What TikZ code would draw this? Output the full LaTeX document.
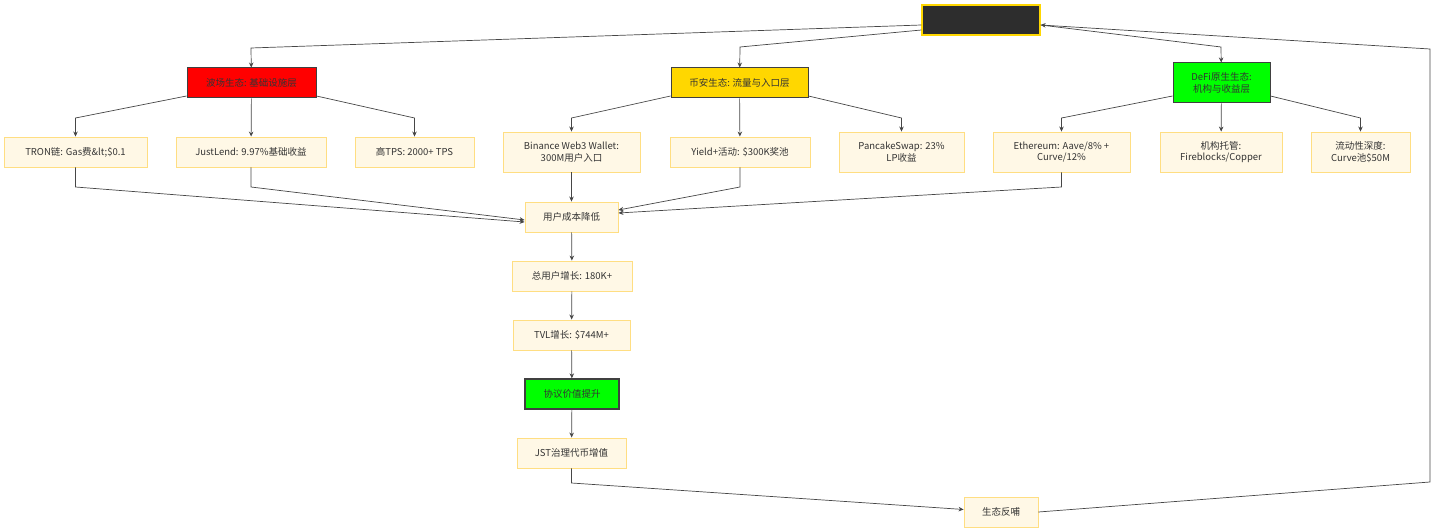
\documentclass[tikz,border=0pt]{standalone}
\usepackage{fontspec}
\setmainfont{Noto Sans CJK SC}
\usetikzlibrary{arrows.meta}
\definecolor{leaffill}{RGB}{255,248,230}
\definecolor{leafdraw}{RGB}{255,222,130}
\definecolor{edgegray}{RGB}{70,70,70}
\definecolor{rootfill}{RGB}{45,45,45}
\definecolor{rootdraw}{RGB}{255,215,0}
\definecolor{greenfill}{RGB}{0,255,0}
\definecolor{goldfill}{RGB}{255,215,0}
\tikzset{
  leaf/.style={draw=leafdraw,fill=leaffill,line width=0.9pt,rectangle,inner sep=0pt,minimum height=30pt,align=center,font=\fontsize{9.5}{11.5}\selectfont,text=black!80},
  layer/.style={draw=black!75,line width=1pt,rectangle,inner sep=0pt,minimum height=30pt,align=center,font=\fontsize{9.5}{11.5}\selectfont,text=black!80},
  link/.style={draw=edgegray,line width=0.7pt},
}
\begin{document}
\begin{tikzpicture}[x=1pt,y=-1pt,>={Stealth[length=5pt,width=4.5pt]}]
\useasboundingbox (0,0) rectangle (1436,532);
%%
\node (root) at (981,20) [draw=rootdraw,fill=rootfill,line width=1.2pt,rectangle,minimum width=118pt,minimum height=30pt] {};
  \node (tron_eco) at (251.5,83) [layer,fill=red,minimum width=129pt] {波场生态: 基础设施层};
  \node (bn_eco) at (739.5,83) [layer,fill=goldfill,minimum width=137pt] {币安生态: 流量与入口层};
  \node (defi_eco) at (1221.5,83) [layer,fill=greenfill,minimum width=97pt,minimum height=40pt] {DeFi原生生态:\\机构与收益层};
  \node (tron_gas) at (75.5,152) [leaf,minimum width=143pt] {TRON链: Gas费\&lt;\$0.1};
  \node (justlend) at (251,152) [leaf,minimum width=150pt] {JustLend: 9.97\%基础收益};
  \node (tps) at (414.5,152) [leaf,minimum width=119pt] {高TPS: 2000+ TPS};
  \node (web3_wallet) at (571.5,152) [leaf,minimum width=137pt,minimum height=40pt] {Binance Web3 Wallet:\\300M用户入口};
  \node (yield_plus) at (740,152) [leaf,minimum width=140pt] {Yield+活动: \$300K奖池};
  \node (pancake) at (901.5,152) [leaf,minimum width=125pt,minimum height=40pt] {PancakeSwap: 23\%\\LP收益};
  \node (ethereum) at (1061.5,152) [leaf,minimum width=137pt,minimum height=40pt] {Ethereum: Aave/8\% +\\Curve/12\%};
  \node (custody) at (1221,152) [leaf,minimum width=122pt,minimum height=40pt] {机构托管:\\Fireblocks/Copper};
  \node (liquidity) at (1360.5,152) [leaf,minimum width=99pt,minimum height=40pt] {流动性深度:\\Curve池\$50M};
  \node (cost_down) at (571.5,217) [leaf,minimum width=93pt] {用户成本降低};
  \node (user_growth) at (572,276) [leaf,minimum width=120pt] {总用户增长: 180K+};
  \node (tvl_growth) at (571.5,335) [leaf,minimum width=117pt] {TVL增长: \$744M+};
  \node (value_up) at (572,394) [layer,fill=greenfill,line width=1.3pt,minimum width=94pt] {协议价值提升};
  \node (jst_value) at (571.5,453) [leaf,minimum width=109pt] {JST治理代币增值};
  \node (feedback) at (1001,512) [leaf,minimum width=74pt] {生态反哺};
  \draw [->,link] ([yshift=-5pt]root.west) -- (251,48) -- (tron_eco);
  \draw [->,link] ([yshift=-10pt]root.west) -- (740,47) -- (bn_eco);
  \draw [->,link] ([yshift=-5pt]root.east) -- (1221,47) -- (defi_eco);
  \draw [->,link] ([yshift=-13pt]tron_eco.west) -- (75.5,118) -- (tron_gas);
  \draw [->,link] (tron_eco) -- (justlend);
  \draw [->,link] ([yshift=-13pt]tron_eco.east) -- (414.5,118) -- (tps);
  \draw [->,link] ([yshift=-13pt]bn_eco.west) -- (571.5,118) -- (web3_wallet);
  \draw [->,link] (bn_eco) -- (yield_plus);
  \draw [->,link] ([yshift=-13pt]bn_eco.east) -- (901.5,118) -- (pancake);
  \draw [->,link] ([yshift=-13pt]defi_eco.west) -- (1061.5,118) -- (ethereum);
  \draw [->,link] (defi_eco) -- (custody);
  \draw [->,link] ([yshift=-13pt]defi_eco.east) -- (1360.5,118) -- (liquidity);
  \draw [->,link] (tron_gas.south) -- (75.5,187) -- ([yshift=-5pt]cost_down.west);
  \draw [->,link] (justlend.south) -- (251,187) -- ([yshift=-3pt]cost_down.west);
  \draw [->,link] (web3_wallet) -- (cost_down);
  \draw [->,link] (yield_plus.south) -- (740,187) -- ([yshift=7pt]cost_down.east);
  \draw [->,link] (ethereum.south) -- (1061.5,187) -- ([yshift=4pt]cost_down.east);
  \draw [->,link] (cost_down) -- (user_growth);
  \draw [->,link] (user_growth) -- (tvl_growth);
  \draw [->,link] (tvl_growth) -- (value_up);
  \draw [->,link] (value_up) -- (jst_value);
  \draw [->,link] (jst_value.south) -- (571.5,483) -- (feedback);
  \draw [->,link] (feedback.east) -- (1430,482) -- (1430,49) -- ([yshift=-5pt]root.east);
%
\end{tikzpicture}
\end{document}
